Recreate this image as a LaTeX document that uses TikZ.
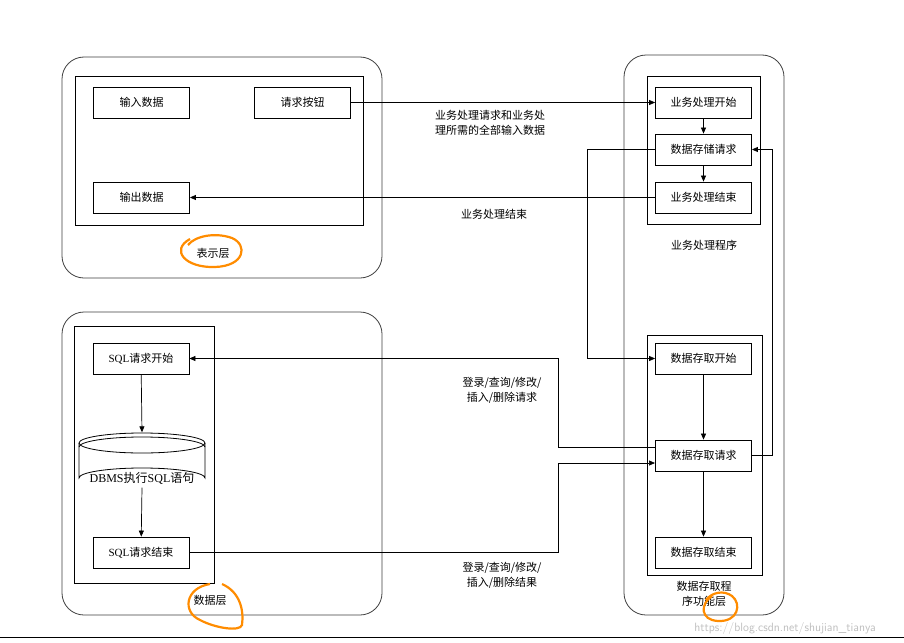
\documentclass[tikz,border=0pt]{standalone}
\usepackage{fontspec}
\setmainfont{Liberation Serif}
\newfontfamily\cjk{Noto Sans CJK SC}
\usetikzlibrary{arrows.meta}
\begin{document}
\begin{tikzpicture}[x=1pt,y=-1pt,
  box/.style={draw,line width=0.8pt,minimum width=96pt,minimum height=31pt,inner sep=0pt,font=\fontsize{11}{13}\selectfont\cjk},
  lbl/.style={font=\fontsize{11}{15}\selectfont\cjk,align=center},
  outer/.style={draw,line width=0.8pt,rounded corners=22pt,black!75},
  inner/.style={draw,line width=0.8pt},
  arr/.style={-{Triangle[length=6pt,width=5pt]},line width=0.7pt},
  hl/.style={draw=orange!90!yellow,line width=2.2pt}]
\useasboundingbox (0,0) rectangle (904,642);
\fill[white] (0,0) rectangle (904,642);
% containers
\draw[outer] (62,57) rectangle (382,278);
\draw[inner] (75,76) rectangle (363,225);
\draw[outer] (624,55) rectangle (784,615);
\draw[inner] (647,76) rectangle (760,224);
\draw[inner] (647,335) rectangle (762,575);
\draw[outer] (62,312) rectangle (382,615);
\draw[inner] (74,326) rectangle (214,583);
% nodes
\node[box] (in) at (141.5,102.5) {输入数据};
\node[box] (req) at (302.5,102.5) {请求按钮};
\node[box] (out) at (141.5,197.5) {输出数据};
\node[box] (bs) at (703.5,102.5) {业务处理开始};
\node[box] (ds) at (703.5,149.5) {数据存储请求};
\node[box] (be) at (703.5,197.5) {业务处理结束};
\node[box] (as) at (703.5,358.5) {数据存取开始};
\node[box] (ar) at (703.5,455.5) {数据存取请求};
\node[box] (ae) at (703.5,552.5) {数据存取结束};
\node[box] (sq) at (141,358.5) {\rmfamily SQL\cjk 请求开始};
\node[box] (se) at (141,552.5) {\rmfamily SQL\cjk 请求结束};
% cylinder
\draw[line width=0.8pt] (79,443) -- (79,478) arc[start angle=180,end angle=360,x radius=63,y radius=10] -- (205,443);
\draw[line width=0.8pt] (142,443) ellipse[x radius=63,y radius=10];
\draw[line width=0.8pt] (79,447) arc[start angle=180,end angle=360,x radius=63,y radius=10];
\node[minimum width=126pt,minimum height=55pt,inner sep=0pt] (db) at (142,460) {};
\node[font=\fontsize{12}{14}\selectfont] at (142,478) {DBMS\cjk 执行\rmfamily SQL\cjk 语句};
% labels
\node[lbl] (l1) at (213,253) {表示层};
\node[lbl] (l2) at (704,245) {业务处理程序};
\node[lbl] (l3) at (704,594) {数据存取程\\序功能层};
\node[lbl] (l4) at (210,600) {数据层};
\node[lbl] at (490,123) {业务处理请求和业务处\\理所需的全部输入数据};
\node[lbl] at (494,214) {业务处理结束};
\node[lbl] at (502,390) {登录/查询/修改/\\插入/删除请求};
\node[lbl] at (502,575) {登录/查询/修改/\\插入/删除结果};
% connectors
\coordinate (arU) at (655,447);
\coordinate (arD) at (655,463);
\draw[arr] (req.east) -- (bs.west);
\draw[arr] (be.west) -- (out.east);
\draw[arr] (bs) -- (ds);
\draw[arr] (ds) -- (be);
\draw[arr] (ds.west) -- (587,149.5) |- (as.west);
\draw[arr] (ar.east) -- (772,455.5) |- (ds.east);
\draw[arr] (as) -- (ar);
\draw[arr] (ar) -- (ae);
\draw[arr] (arU) -- (558,447) |- (sq.east);
\draw[arr] (se.east) -- (558,552.5) |- (arD);
\draw[arr] (sq) -- (db.north);
\draw[arr] (db.south) -- (se);
% bottom line and watermark
\draw[line width=1pt] (0,637) -- (904,637);
\node[font=\fontsize{12}{14}\selectfont\sffamily,text=black!25] at (785,628) {https://blog.csdn.net/shujian\_tianya};
% orange highlights
\draw[hl] (190,239) .. controls (170,250) and (185,268) .. (215,267) .. controls (245,266) and (248,245) .. (232,238) .. controls (215,232) and (195,236) .. (188,245);
\draw[hl] (712,596) .. controls (700,604) and (700,620) .. (718,621) .. controls (738,622) and (742,604) .. (732,596) .. controls (724,590) and (712,592) .. (706,600);
\draw[hl] (210,584) .. controls (185,588) and (182,612) .. (200,620) .. controls (215,628) and (240,632) .. (242,625) .. controls (244,610) and (240,592) .. (222,584);
\end{tikzpicture}
\end{document}
